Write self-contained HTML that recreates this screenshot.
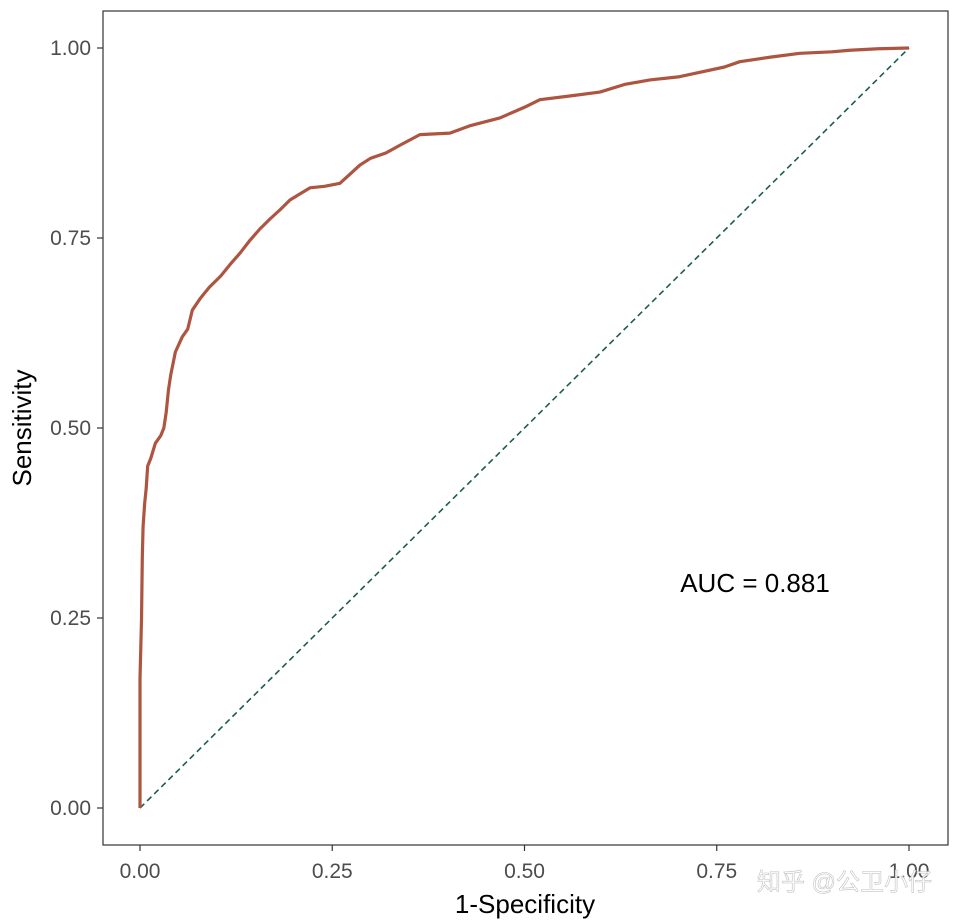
<!DOCTYPE html>
<html><head><meta charset="utf-8">
<style>
html,body{margin:0;padding:0;background:#fff;}
svg{display:block;font-family:"Liberation Sans","Noto Sans CJK SC",sans-serif;}
</style></head>
<body>
<svg id="chart" width="958" height="922" viewBox="0 0 958 922">
  <rect x="103" y="11" width="845" height="834" fill="#fff" stroke="#333" stroke-width="1.2"/>
  <g id="xaxis"></g>
  <g id="yaxis"></g>
  <line id="diag" stroke="#1b5c52" stroke-width="1.6" stroke-dasharray="6,4"/>
  <polyline id="roc" fill="none" stroke="#ad5540" stroke-width="3.2" stroke-linejoin="round"/>
  <text x="755" y="592" font-size="26" text-anchor="middle" fill="#000">AUC = 0.881</text>
  <text x="525" y="913" font-size="26" text-anchor="middle" fill="#000">1-Specificity</text>
  <text transform="translate(31,428) rotate(-90)" font-size="26" text-anchor="middle" fill="#000">Sensitivity</text>
  <text x="932" y="890" font-size="24" text-anchor="end" fill="#ffffff" stroke="#bbb" stroke-width="0.6" opacity="0.9">知乎 @公卫小仔</text>
</svg>
<script>
const fpr = [0,0,0.002,0.003,0.004,0.006,0.008,0.010,0.014,0.020,0.027,0.031,0.034,0.037,0.040,0.046,0.055,0.062,0.068,0.078,0.090,0.105,0.117,0.130,0.143,0.156,0.169,0.182,0.195,0.208,0.221,0.240,0.260,0.273,0.286,0.300,0.320,0.338,0.364,0.403,0.430,0.468,0.500,0.520,0.560,0.598,0.630,0.663,0.700,0.728,0.760,0.780,0.820,0.858,0.900,0.923,0.960,1];
const tpr = [0,0.17,0.25,0.33,0.37,0.40,0.42,0.45,0.46,0.48,0.49,0.50,0.52,0.55,0.57,0.60,0.62,0.63,0.655,0.67,0.685,0.700,0.715,0.730,0.747,0.762,0.775,0.787,0.800,0.808,0.816,0.818,0.822,0.834,0.846,0.855,0.862,0.872,0.886,0.888,0.898,0.908,0.922,0.932,0.937,0.942,0.952,0.958,0.962,0.968,0.975,0.982,0.988,0.993,0.995,0.997,0.999,1];
const ticks = [0,0.25,0.5,0.75,1];
const tickLabels = ["0.00","0.25","0.50","0.75","1.00"];

const sx = v => 140 + v*769;
const sy = v => 808 - v*760;
const NS = "http://www.w3.org/2000/svg";

let pts = [];
for (let i=0;i<fpr.length;i++){
  pts.push(sx(fpr[i])+","+sy(tpr[i]));
}
document.getElementById("roc").setAttribute("points", pts.join(" "));
const d = document.getElementById("diag");
d.setAttribute("x1", sx(0)); d.setAttribute("y1", sy(0));
d.setAttribute("x2", sx(1)); d.setAttribute("y2", sy(1));

const xg = document.getElementById("xaxis"), yg = document.getElementById("yaxis");
ticks.forEach((t,i)=>{
  const l = document.createElementNS(NS,"line");
  l.setAttribute("x1",sx(t)); l.setAttribute("x2",sx(t)); l.setAttribute("y1",845); l.setAttribute("y2",851);
  l.setAttribute("stroke","#333"); l.setAttribute("stroke-width","1.2");
  
  
  xg.appendChild(l);
  const tx = document.createElementNS(NS,"text");
  tx.setAttribute("x",sx(t)); tx.setAttribute("y",878); tx.setAttribute("font-size","21");
  tx.setAttribute("text-anchor","middle"); tx.setAttribute("fill","#4d4d4d");
  tx.textContent = tickLabels[i];
  
  
  xg.appendChild(tx);

  const l2 = document.createElementNS(NS,"line");
  l2.setAttribute("x1",97); l2.setAttribute("x2",103); l2.setAttribute("y1",sy(t)); l2.setAttribute("y2",sy(t));
  l2.setAttribute("stroke","#333"); l2.setAttribute("stroke-width","1.2");
  
  
  yg.appendChild(l2);
  const ty = document.createElementNS(NS,"text");
  ty.setAttribute("x",91); ty.setAttribute("y",sy(t)+7); ty.setAttribute("font-size","21");
  ty.setAttribute("text-anchor","end"); ty.setAttribute("fill","#4d4d4d");
  ty.textContent = tickLabels[i];
  
  
  yg.appendChild(ty);
});
</script>
</body></html>
